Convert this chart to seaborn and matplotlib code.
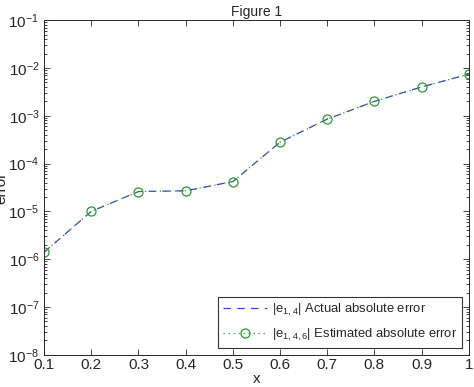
import matplotlib
matplotlib.use("Agg")
import matplotlib.pyplot as plt
import numpy as np
import pandas as pd
import seaborn as sns

x_vals = [0.1, 0.2, 0.3, 0.4, 0.5, 0.6, 0.7, 0.8, 0.9, 1.0]
actual_err = [1.4e-6, 1.0e-5, 2.6e-5, 2.7e-5, 4.2e-5, 2.8e-4, 8.5e-4, 2.0e-3, 4.0e-3, 7.4e-3]
estimated_err = [1.4e-6, 1.0e-5, 2.6e-5, 2.7e-5, 4.2e-5, 2.8e-4, 8.5e-4, 2.0e-3, 4.0e-3, 7.4e-3]
x_ticks = [0.1, 0.2, 0.3, 0.4, 0.5, 0.6, 0.7, 0.8, 0.9, 1.0]
x_tick_labels = ["0.1", "0.2", "0.3", "0.4", "0.5", "0.6", "0.7", "0.8", "0.9", "1"]

sns.set_style("ticks")
plt.rcParams["font.family"] = ["Liberation Sans", "DejaVu Sans"]
plt.rcParams["mathtext.default"] = "regular"

df = pd.DataFrame({"x": x_vals, "actual": actual_err, "estimated": estimated_err})

figure = plt.figure(figsize=(4.74, 3.87), dpi=100)
axis = figure.add_axes([0.093, 0.083, 0.896, 0.865])

sns.lineplot(data=df, x="x", y="actual", ax=axis, color="#4040d8", linestyle=(0, (6, 5)),
             linewidth=0.9, label=r"|e$_{1,4}$| Actual absolute error")
sns.lineplot(data=df, x="x", y="estimated", ax=axis, color="#2a9a2a", linestyle=(0, (1, 3)),
             linewidth=0.9, marker="o", markersize=6.5, markerfacecolor="none",
             markeredgecolor="#2a9a2a", markeredgewidth=0.9,
             label=r"|e$_{1,4,6}$| Estimated absolute error")

axis.set_yscale("log")
axis.set_ylim(1e-8, 1e-1)
axis.set_xlim(0.1, 1.0)
axis.set_xticks(x_ticks)
axis.set_xticklabels(x_tick_labels)
axis.tick_params(which="both", direction="in", top=True, right=True, labelsize=11, width=0.6)
axis.tick_params(axis="x", pad=2)
axis.tick_params(which="major", length=4)
axis.tick_params(which="minor", length=2)
for s in axis.spines.values():
    s.set_linewidth(0.7)

axis.set_title("Figure 1", fontsize=10, pad=3)
axis.set_xlabel("x", fontsize=11, labelpad=0)
axis.set_ylabel("error", fontsize=11, labelpad=0)

leg = axis.legend(loc="lower right", fontsize=9.4, frameon=True, fancybox=False,
                  edgecolor="black", borderaxespad=0.5, handlelength=3.3,
                  labelspacing=0.7, handletextpad=0.4)
leg.get_frame().set_linewidth(0.8)

plt.savefig("out.png", dpi=100)
plt.close()
